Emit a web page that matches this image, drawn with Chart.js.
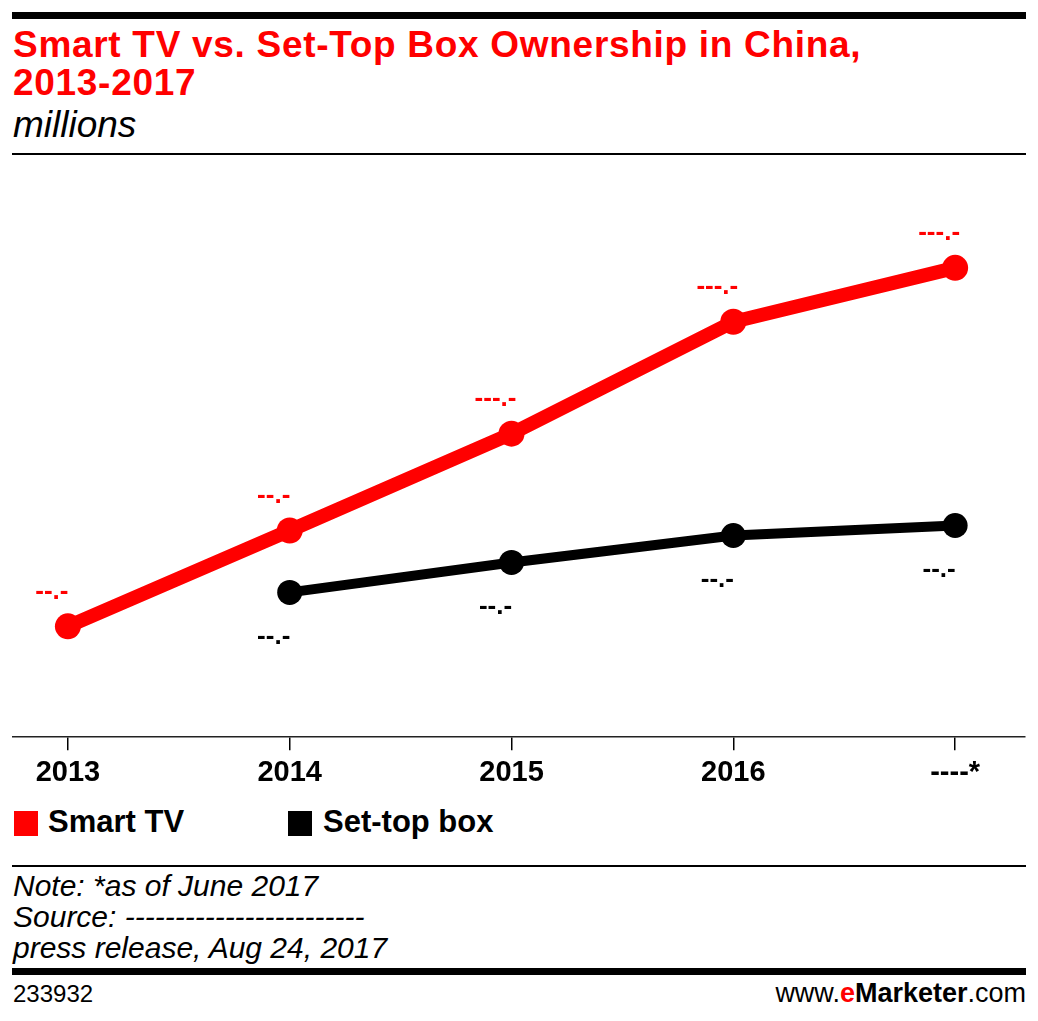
<!DOCTYPE html>
<html>
<head>
<meta charset="utf-8">
<script src="https://cdn.jsdelivr.net/npm/chart.js@4/dist/chart.umd.min.js"></script>
<style>
    html, body { margin: 0; padding: 0; background: #fff; }
    body { width: 1038px; height: 1021px; position: relative; overflow: hidden; font-family: 'Liberation Sans', Arial, sans-serif; }
    .rule { position: absolute; left: 12px; width: 1014px; background: #000; }
    .abs { position: absolute; white-space: nowrap; }
    .title { left: 13px; color: #ff0000; font-weight: bold; font-size: 37px; line-height: 38px; letter-spacing: 0.7px; }
    .sub { left: 13px; top: 104px; font-style: italic; font-size: 37px; }
    .note { left: 13px; font-style: italic; font-size: 30px; }
    .leg { top: 804px; font-weight: bold; font-size: 31px; }
    .sw { position: absolute; top: 811px; width: 24px; height: 25px; }
    #wrap { position: absolute; left: 0; top: 155px; width: 1038px; height: 640px; }
</style>
</head>
<body>
<div class="rule" style="top:12px;height:7px"></div>
<div class="abs title" style="top:26px">Smart TV vs. Set-Top Box Ownership in China,</div>
<div class="abs title" style="top:64px">2013-2017</div>
<div class="abs sub">millions</div>
<div class="rule" style="top:153px;height:2px"></div>

<div id="wrap"><canvas id="chart"></canvas></div>

<div class="sw" style="left:14px;background:#ff0000"></div>
<div class="abs leg" style="left:48px">Smart TV</div>
<div class="sw" style="left:288px;background:#000"></div>
<div class="abs leg" style="left:323px">Set-top box</div>

<div class="rule" style="top:865px;height:2px"></div>
<div class="abs note" style="top:869px">Note: *as of June 2017</div>
<div class="abs note" style="top:900px">Source: ------------------------</div>
<div class="abs note" style="top:931px">press release, Aug 24, 2017</div>
<div class="rule" style="top:968px;height:7px"></div>
<div class="abs" style="left:13px;top:980px;font-size:24px">233932</div>
<div class="abs" style="right:12px;top:978px;font-size:27px">www.<b style="color:#ff0000">e</b><b>Marketer</b>.com</div>

<script>
const years = [2013, 2014, 2015, 2016, 2017];
const yearLabels = ['2013', '2014', '2015', '2016', '----*'];
const smartTv = [55.5, 103.5, 152, 208, 235];
const setTopBox = [null, 72.5, 87.5, 101, 106];
const smartTvLabels = ['--.-', '--.-', '---.-', '---.-', '---.-'];
const setTopBoxLabels = [null, '--.-', '--.-', '--.-', '--.-'];

const pointLabels = {
    id: 'pointLabels',
    afterDatasetsDraw(chart) {
        const ctx = chart.ctx;
        ctx.save();
        ctx.font = 'bold 26px "Liberation Sans", sans-serif';
        ctx.textAlign = 'center';
        ctx.textBaseline = 'middle';
        const sets = [
            { i: 0, texts: smartTvLabels, color: '#ff0000', dy: -35 },
            { i: 1, texts: setTopBoxLabels, color: '#000000', dy: 44 },
        ];
        sets.forEach(s => {
            const meta = chart.getDatasetMeta(s.i);
            meta.data.forEach((pt, k) => {
                const t = s.texts[k];
                if (!t || pt.skip) return;
                ctx.fillStyle = s.color;
                ctx.fillText(t, pt.x - 16, pt.y + s.dy);
            });
        });
        ctx.restore();
    },
};

new Chart(document.getElementById('chart'), {
    type: 'line',
    data: {
        datasets: [
            {
                label: 'Smart TV',
                data: years.map((y, i) => ({ x: y, y: smartTv[i] })),
                borderColor: '#ff0000',
                backgroundColor: '#ff0000',
                borderWidth: 14,
                pointRadius: 13,
                pointHoverRadius: 13,
                pointBorderWidth: 0,
                tension: 0,
            },
            {
                label: 'Set-top box',
                data: years.map((y, i) => ({ x: y, y: setTopBox[i] })),
                borderColor: '#000000',
                backgroundColor: '#000000',
                borderWidth: 10,
                pointRadius: 12.5,
                pointHoverRadius: 12.5,
                pointBorderWidth: 0,
                tension: 0,
            },
        ],
    },
    options: {
        responsive: true,
        maintainAspectRatio: false,
        animation: false,
        layout: { padding: { left: 12, right: 12, top: 0, bottom: 0 } },
        plugins: { legend: { display: false }, tooltip: { enabled: false } },
        scales: {
            x: {
                type: 'linear',
                min: 2013 - 55 / 222.25,
                max: 2017 + 70 / 222.25,
                afterBuildTicks: (axis) => { axis.ticks = years.map(v => ({ value: v })); },
                grid: { drawOnChartArea: false, drawTicks: true, tickLength: 13, color: '#000', lineWidth: 1.5 },
                border: { display: true, color: '#222', width: 1.5 },
                ticks: {
                    color: '#000',
                    padding: 5,
                    maxRotation: 0,
                    autoSkip: false,
                    font: { size: 29, weight: 'bold', family: '"Liberation Sans", sans-serif' },
                    callback: (v) => yearLabels[years.indexOf(v)],
                },
            },
            y: {
                display: false,
                min: 0,
                max: 285,
            },
        },
    },
    plugins: [pointLabels],
});
</script>
</body>
</html>
